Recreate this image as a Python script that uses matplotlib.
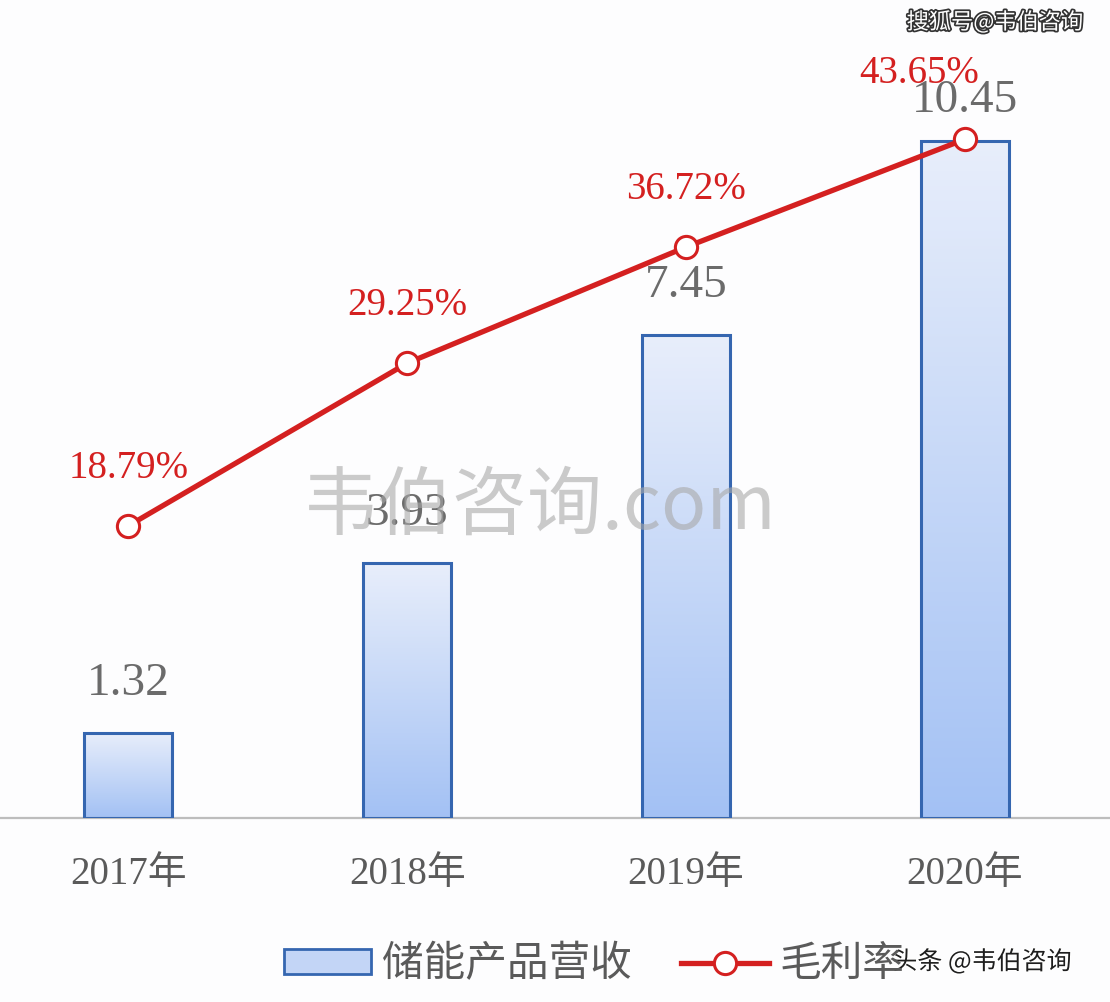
import numpy as np
import matplotlib
matplotlib.use("Agg")
import matplotlib.pyplot as plt
from matplotlib.patches import Patch
from matplotlib.lines import Line2D
import matplotlib.patheffects as pe

years = ["2017年", "2018年", "2019年", "2020年"]
revenue = [1.32, 3.93, 7.45, 10.45]
margin = [18.79, 29.25, 36.72, 43.65]
revenue_labels = ["1.32", "3.93", "7.45", "10.45"]
margin_labels = ["18.79%", "29.25%", "36.72%", "43.65%"]

BAR_EDGE = "#3566b0"
RED = "#d42020"
GRAY = "#6b6b6b"
NUM_FONT = ["Liberation Serif", "Noto Sans CJK SC"]
CJK_FONT = ["Noto Sans CJK SC", "DejaVu Sans"]

fig = plt.figure(figsize=(11.1, 10.02), dpi=100, facecolor="#fdfdfe")
ax = fig.add_axes([0, 0.1836, 1, 0.776])
ax.set_facecolor("none")

x = np.arange(len(years))
bars = ax.bar(x, revenue, width=0.316, facecolor="none", edgecolor=BAR_EDGE,
              linewidth=2.2, zorder=3)

# vertical gradient fill, light at the top, bluer at the bottom
grad = np.linspace(0, 1, 256).reshape(-1, 1)
cmap = matplotlib.colors.LinearSegmentedColormap.from_list("g", ["#e8eefb", "#a3c1f4"])
for b in bars:
    bx, by = b.get_x(), b.get_y()
    im = ax.imshow(grad, cmap=cmap, aspect="auto", zorder=2,
                   extent=[bx, bx + b.get_width(), by, by + b.get_height()],
                   origin="upper")
    im.set_clip_path(b)

for i, v in enumerate(revenue):
    off = 0.62 if i == 3 else 0.76
    ax.text(x[i], v + off, revenue_labels[i], ha="center", va="center",
            fontsize=34, color=GRAY, family=NUM_FONT, zorder=5)

ax.set_xlim(-0.46, 3.52)
ax.set_ylim(0, 12)
ax.set_yticks([])
ax.set_xticks(x)
ax.set_xticklabels(years, fontsize=28, color="#5a5a5a", family=NUM_FONT)
ax.tick_params(axis="x", length=0, pad=27)
for s in ["top", "left", "right"]:
    ax.spines[s].set_visible(False)
ax.spines["bottom"].set_color("#bdbdbd")
ax.spines["bottom"].set_linewidth(1.6)

ax2 = ax.twinx()
ax2.set_ylim(0, 50)
ax2.set_yticks([])
for s in ax2.spines.values():
    s.set_visible(False)
ax2.plot(x, margin, color=RED, linewidth=3.8, marker="o", markersize=16,
         markerfacecolor="white", markeredgecolor=RED, markeredgewidth=2.2, zorder=4)
for i, v in enumerate(margin):
    dx = -0.165 if i == 3 else 0.0
    dy = 4.2 if i == 3 else 3.7
    ax2.text(x[i] + dx, v + dy, margin_labels[i], ha="center", va="center",
             fontsize=28, color=RED, family=NUM_FONT, zorder=5)

handles = [
    Patch(facecolor="#c3d5f6", edgecolor=BAR_EDGE, linewidth=2),
    Line2D([0], [0], color=RED, linewidth=3.8, marker="o", markersize=16,
           markerfacecolor="white", markeredgecolor=RED, markeredgewidth=2.2),
]
fig.legend(handles, ["储能产品营收", "毛利率"], loc="center",
           bbox_to_anchor=(0.535, 0.037), ncol=2, frameon=False,
           prop={"family": CJK_FONT, "size": 30, "weight": "light"},
           labelcolor="#5a5a5a", handlelength=2.1, handleheight=0.55,
           handletextpad=0.25, columnspacing=1.2, numpoints=1)

# watermarks
fig.text(540 / 1110, 1 - 507 / 1002, "韦伯咨询.com", ha="center", va="center",
         fontsize=54, color="#a8a8a8", alpha=0.6, family=CJK_FONT, zorder=10)
fig.text(995 / 1110, 1 - 22 / 1002, "搜狐号@韦伯咨询", ha="center", va="center",
         fontsize=16, color="white", family=CJK_FONT,
         path_effects=[pe.withStroke(linewidth=2.5, foreground="#333333")])
fig.text(982 / 1110, 1 - 962 / 1002, "头条 @韦伯咨询", ha="center", va="center",
         fontsize=18, color="#1e1e1e", family=CJK_FONT,
         path_effects=[pe.withStroke(linewidth=2, foreground="white")])

fig.savefig("out.png", dpi=100, facecolor=fig.get_facecolor())
